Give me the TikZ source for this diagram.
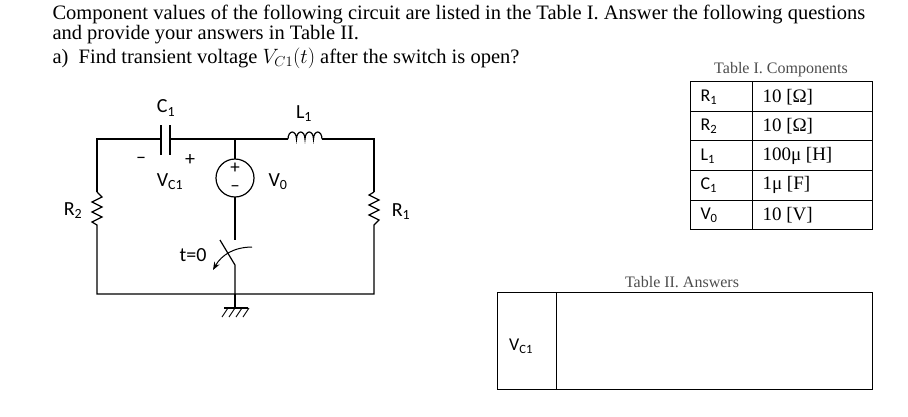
\documentclass[tikz,border=0pt]{standalone}
\usepackage{fontspec}
\setmainfont{Liberation Serif}
\newfontfamily\calfnt{Carlito}
\usetikzlibrary{arrows.meta}
\newcommand\sbs[1]{\textsubscript{#1}}
\begin{document}
\begin{tikzpicture}[x=1pt,y=-1pt,line width=1pt,
  wire/.style={draw,line width=1.2pt},
  lab/.style={font=\calfnt\fontsize{20}{20}\selectfont,inner sep=0},
  tlab/.style={font=\calfnt\fontsize{18}{18}\selectfont,inner sep=0,anchor=west},
  txt/.style={font=\fontsize{20.5}{22}\selectfont,anchor=west,inner sep=0},
  cell/.style={font=\fontsize{19}{19}\selectfont,inner sep=0,anchor=west},
  captxt/.style={font=\fontsize{16}{16}\selectfont,text=black!70,inner sep=0},
  pm/.style={font=\calfnt\fontsize{19}{19}\selectfont,inner sep=0}]
\useasboundingbox (0,0) rectangle (908,416);
\node[txt] (t1) at (52,14) {Component values of the following circuit are listed in the Table I. Answer the following questions};
\node[txt] (t2) at (52,35) {and provide your answers in Table II.};
\node[txt] (t3) at (52,58) {a)\enspace Find transient voltage $V_{C1}(t)$ after the switch is open?};
% circuit wires
\coordinate (tl) at (97,139); \coordinate (tr) at (374,139);
\coordinate (bl) at (97,294); \coordinate (br) at (374,294);
\coordinate (mt) at (235,139); \coordinate (mb) at (235,294);
\draw[wire] (97,192) -- (tl) -- (161,139);
\draw[wire] (161,125) -- (161,155); \draw[wire] (170,125) -- (170,155);
\draw[wire] (170,139) -- (288,139);
\draw[wire] (288,139) arc(180:360:4.25 and 7) arc(180:360:4.25 and 7) arc(180:360:4.25 and 7) arc(180:360:4.25 and 7);
\draw[wire] (322,139) -- (tr) -- (374,192);
\draw[wire] (374,192) -- (369,195) -- (379,200) -- (369,205) -- (379,210) -- (369,215) -- (379,220) -- (374,225) -- (br) -- (bl) -- (97,225)
  -- (92,222) -- (102,217) -- (92,212) -- (102,207) -- (92,202) -- (102,197) -- (97,192);
\draw[wire] (mt) -- (235,159);
\node[draw,circle,line width=1.2pt,minimum size=38pt,inner sep=0] (src) at (235,178) {};
\node[pm] (pl) at (235,168) {+};
\node[pm] (mi) at (235,189) {–};
\draw[wire] (235,197) -- (235,240);
\draw[wire] (220,240) -- (235,265) -- (mb);
\draw[-{Stealth[length=8pt]},line width=1pt] (252,247) to[bend right=30] (213,270);
\draw[wire] (mb) -- (235,308);
\draw[wire] (224,308) -- (248,308);
\foreach \x in {228,235,242,249} \draw[line width=0.9pt] (\x,308) -- (\x-6,317);
% labels
\node[lab] (c1) at (166,108) {C\sbs{1}};
\node[lab] (l1) at (304,114) {L\sbs{1}};
\node[lab] (r1) at (401,212) {R\sbs{1}};
\node[lab] (r2) at (73,211) {R\sbs{2}};
\node[lab] (v0) at (278,182) {V\sbs{0}};
\node[lab] (vc) at (170,182) {V\sbs{C1}};
\node[lab] (mm) at (141,160) {–};
\node[lab] (pp) at (190,160) {+};
\node[lab] (t0) at (193,255) {t=0};
% table I
\node[captxt] (cap1) at (781,70) {Table I. Components};
\draw[line width=0.8pt] (690,81) rectangle (872,229);
\foreach \y in {111,140,170,200} \draw[line width=0.8pt] (690,\y) -- (872,\y);
\draw[line width=0.8pt] (752,81) -- (752,229);
\node[tlab] (a1) at (700,97) {R\sbs{1}};
\node[tlab] (a2) at (700,126) {R\sbs{2}};
\node[tlab] (a3) at (700,156) {L\sbs{1}};
\node[tlab] (a4) at (700,185) {C\sbs{1}};
\node[tlab] (a5) at (700,215) {V\sbs{0}};
\node[cell] (b1) at (762,97) {10 [Ω]};
\node[cell] (b2) at (762,126) {10 [Ω]};
\node[cell] (b3) at (762,156) {100μ [H]};
\node[cell] (b4) at (762,185) {1μ [F]};
\node[cell] (b5) at (762,215) {10 [V]};
% table II
\node[captxt] (cap2) at (682,282) {Table II. Answers};
\draw[line width=0.8pt] (497,292) rectangle (872,389);
\draw[line width=0.8pt] (556,292) -- (556,389);
\node[lab,font=\calfnt\fontsize{18}{18}\selectfont] (vv) at (521,346) {V\sbs{C1}};
\end{tikzpicture}
\end{document}
